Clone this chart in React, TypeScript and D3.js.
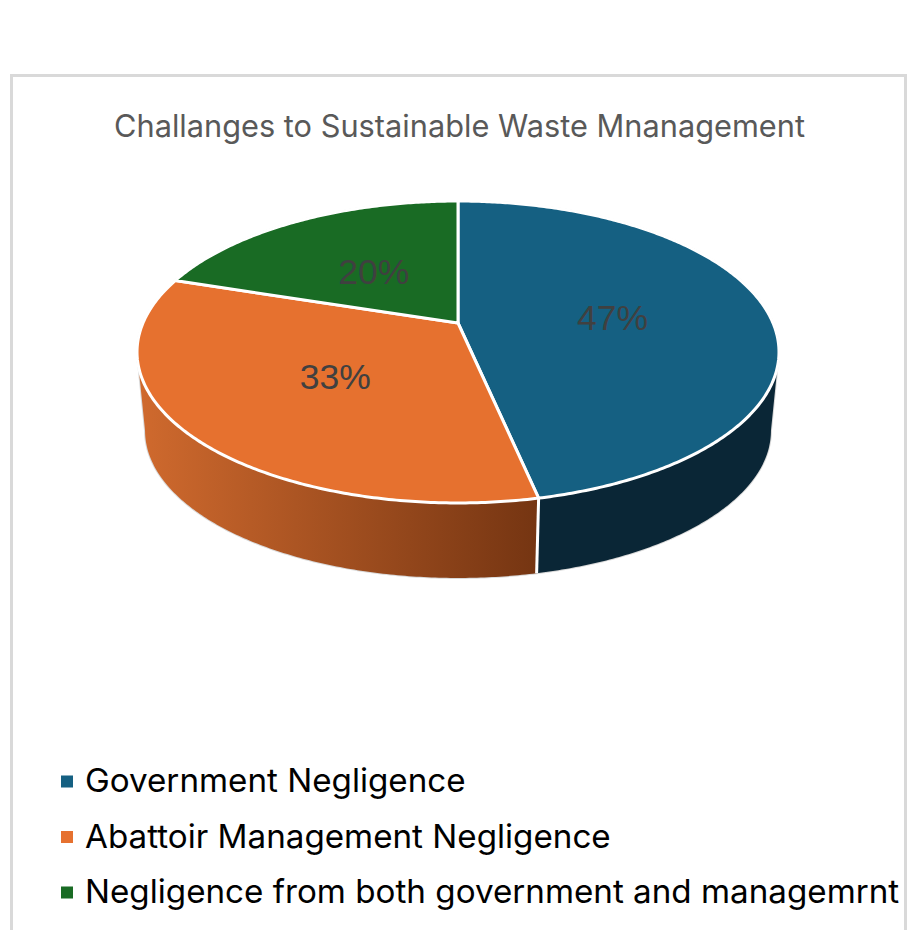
import * as d3 from 'd3';
import React from 'react';

const categories = ['Government Negligence', 'Abattoir Management Negligence', 'Negligence from both government and managemrnt'];
const counts = [14, 10, 6];
const colors = ['#156082', '#E6712F', '#196B24'];
const title = 'Challanges to Sustainable Waste Mnanagement';

const width = 919;
const height = 930;

// the tilted disc is a perspective view, so the hub sits above the ellipse centre
const hub = { x: 458, y: 323 };
const persp = { k: -0.192, a: 145.4, b: 315 };
const depth = { scale: 0.975, hubY: 402.5 };
// where the rim turns away from the viewer: cos(angle) = k
const rimRight = Math.acos(persp.k);
const rimLeft = Math.PI * 2 - rimRight;

const project = (angle: number, r = 1, scale = 1, hubY = hub.y): [number, number] => {
  const u = Math.sin(angle) * r;
  const v = -Math.cos(angle) * r;
  const den = 1 + persp.k * v;
  return [hub.x + (scale * persp.b * u) / den, hubY + (scale * persp.a * v) / den];
};

const line = d3.line().curve(d3.curveLinear);
const sample = (a0: number, a1: number) => {
  const n = Math.max(2, Math.ceil(Math.abs(a1 - a0) / 0.01));
  return d3.range(n + 1).map((i) => a0 + ((a1 - a0) * i) / n);
};

const total = d3.sum(counts);
const slices = d3.pie<number>().sort(null)(counts);
const pct = d3.format('.0%');
const color = d3.scaleOrdinal<number, string>().domain(d3.range(counts.length)).range(colors);

const topPath = (a0: number, a1: number) =>
  line([[hub.x, hub.y], ...sample(a0, a1).map((a) => project(a))]) + 'Z';
const sidePath = (a0: number, a1: number) =>
  line([
    ...sample(a0, a1).map((a) => project(a)),
    ...sample(a1, a0).map((a) => project(a, 1, depth.scale, depth.hubY)),
  ]) + 'Z';

const legendY = d3.scalePoint<number>().domain(d3.range(categories.length)).range([781, 892]);

export default function App() {
  const blueEnd = slices[0].endAngle;
  const dividerTop = project(blueEnd);
  const dividerBottom = project(blueEnd, 1, depth.scale, depth.hubY);

  return (
    <svg
      width={width}
      height={height}
      viewBox={`0 0 ${width} ${height}`}
      style={{ position: 'absolute', left: 0, top: 0, background: '#fff' }}
    >
      <defs>
        <linearGradient id="orangeSide" gradientUnits="userSpaceOnUse" x1={137} x2={538} y1={0} y2={0}>
          <stop offset="0" stopColor="#D06A2E" />
          <stop offset="1" stopColor="#753512" />
        </linearGradient>
      </defs>
      <path d="M11.5,930V75.5H905.5V930" fill="#fff" stroke="#D9D9D9" strokeWidth={3} />

      <text
        x={459.5}
        y={137}
        textAnchor="middle"
        fontFamily="Inter"
        fontSize={31}
        fill="#595959"
        textLength={691}
        lengthAdjust="spacingAndGlyphs"
      >
        {title}
      </text>

      {/* thin halo round the whole cake */}
      <path d={sidePath(rimRight, rimLeft)} fill="none" stroke="#D9D9D9" strokeWidth={2} />
      <path d={topPath(0, Math.PI * 2)} fill="none" stroke="#D9D9D9" strokeWidth={2} />

      {/* only the front of the wall is drawn, from rim turn to rim turn */}
      <path d={sidePath(rimRight, blueEnd)} fill="#0A2636" />
      <path d={sidePath(blueEnd, rimLeft)} fill="url(#orangeSide)" />
      <line x1={dividerTop[0]} y1={dividerTop[1]} x2={dividerBottom[0]} y2={dividerBottom[1]} stroke="#fff" strokeWidth={3} />

      {slices.map((s) => (
        <path
          key={s.index}
          d={topPath(s.startAngle, s.endAngle)}
          fill={color(s.index)}
          stroke="#fff"
          strokeWidth={3}
          strokeLinejoin="round"
        />
      ))}

      {slices.map((s) => {
        const [x, y] = project((s.startAngle + s.endAngle) / 2, 0.495);
        return (
          <text
            key={s.index}
            x={x + 1}
            y={y + 2}
            dy="0.36em"
            textAnchor="middle"
            fontFamily="Liberation Sans"
            fontSize={35.5}
            fill="#404040"
          >
            {pct(counts[s.index] / total)}
          </text>
        );
      })}

      {categories.map((c, i) => (
        <g key={c}>
          <rect x={61} y={legendY(i)! - 5.5} width={12} height={12} fill={color(i)} />
          <text x={85} y={legendY(i)! + 11} fontFamily="Inter" fontSize={33.2} fill="#000">
            {c}
          </text>
        </g>
      ))}
    </svg>
  );
}
